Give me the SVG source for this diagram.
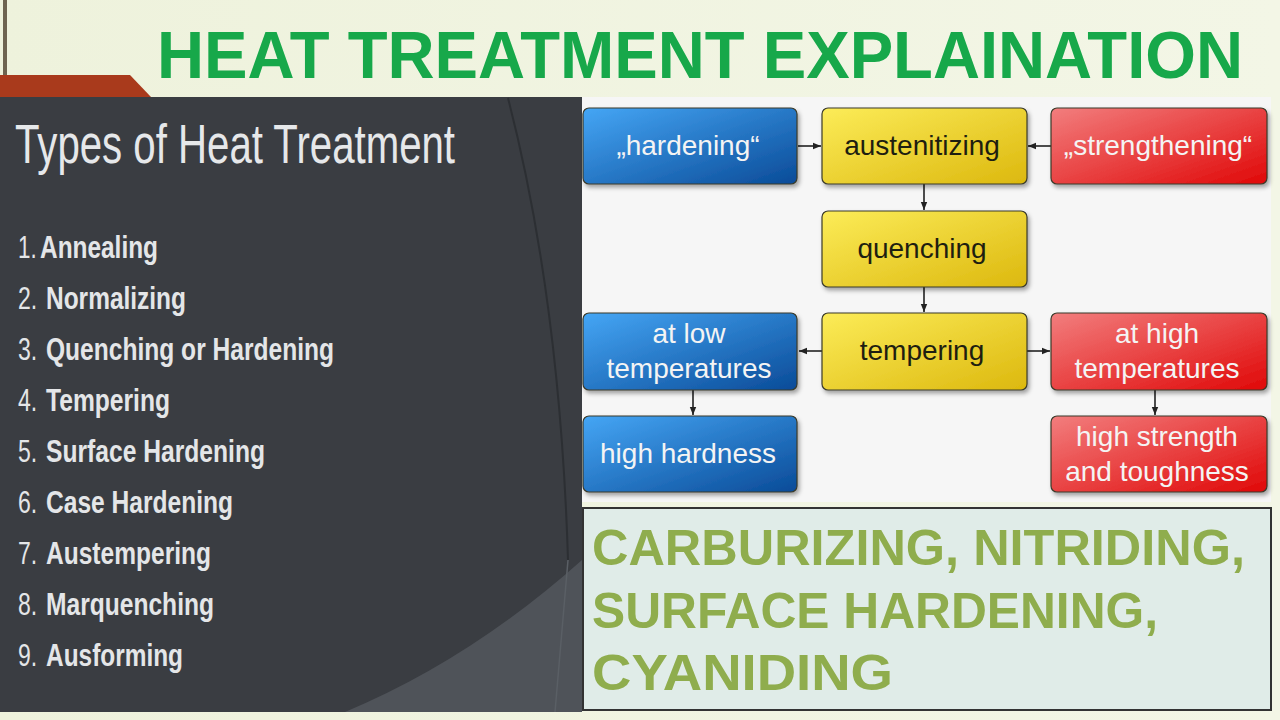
<svg xmlns="http://www.w3.org/2000/svg" width="1280" height="720" viewBox="0 0 1280 720">
<defs>
<linearGradient id="bgG" x1="0" y1="0" x2="1" y2="0"><stop offset="0" stop-color="#eef2dc"/><stop offset="1" stop-color="#f3f6e6"/></linearGradient>
<linearGradient id="blueG" x1="0" y1="0" x2="1" y2="1"><stop offset="0" stop-color="#45a6f5"/><stop offset="1" stop-color="#0a4b98"/></linearGradient>
<linearGradient id="yelG" x1="0" y1="0" x2="1" y2="1"><stop offset="0" stop-color="#fcec58"/><stop offset="1" stop-color="#dcb80e"/></linearGradient>
<linearGradient id="redG" x1="0" y1="0" x2="1" y2="1"><stop offset="0" stop-color="#f27e7e"/><stop offset="1" stop-color="#e00808"/></linearGradient>
<filter id="sh" x="-10%" y="-10%" width="125%" height="130%"><feDropShadow dx="2" dy="3" stdDeviation="2" flood-color="#000" flood-opacity="0.35"/></filter>
<marker id="ah" viewBox="0 0 10 10" refX="10" refY="5" markerWidth="8" markerHeight="8" markerUnits="userSpaceOnUse" orient="auto"><path d="M0,1 L10,5 L0,9 z" fill="#222"/></marker>
<style>
.box{stroke:#3a3a2a;stroke-width:1.2;filter:url(#sh)}
.b{fill:url(#blueG)}
.y{fill:url(#yelG)}
.r{fill:url(#redG)}
.lt{font-family:"Liberation Sans",Arial,sans-serif;font-size:28px;fill:#f4f4f4;text-anchor:middle}
.dt{font-family:"Liberation Sans",Arial,sans-serif;font-size:28px;fill:#1e1e10;text-anchor:middle}
.li{font-family:"Liberation Sans",Arial,sans-serif;font-size:32px;font-weight:bold;fill:#e4e6e8}
.num{font-family:"Liberation Sans",Arial,sans-serif;font-size:32px;fill:#e4e6e8}
.con{stroke:#222;stroke-width:1.6;fill:none;marker-end:url(#ah)}
.gt{font-family:"Liberation Sans",Arial,sans-serif;font-size:50px;font-weight:bold;fill:#8fad4d}
</style>
</defs>

<rect width="1280" height="720" fill="url(#bgG)"/>
<rect x="3" y="0" width="4" height="76" fill="#6e6450"/>
<polygon points="0,75 130,75 151,97 0,97" fill="#a93a1c"/>

<text x="157" y="78" font-family="'Liberation Sans',Arial,sans-serif" font-size="66" font-weight="bold" fill="#17a84a" textLength="1086" lengthAdjust="spacingAndGlyphs">HEAT TREATMENT EXPLAINATION</text>

<g id="left-panel">
<rect x="0" y="97" width="582" height="615" fill="#3a3d42"/>
<path d="M582,560 Q470,660 345,712 L582,712 z" fill="#4f5359"/>
<path d="M508,98 Q560,300 568,560" stroke="#2c2f33" stroke-width="2" fill="none"/>
<path d="M568,560 L555,712" stroke="#5a5f65" stroke-width="1.5" fill="none"/>
<text x="15" y="163" font-family="'Liberation Sans',Arial,sans-serif" font-size="56" fill="#e6e8ea" textLength="440" lengthAdjust="spacingAndGlyphs">Types of Heat Treatment</text>
<text class="num" transform="translate(18,258) scale(0.7,1)">1.</text><text class="li" x="40" y="258" textLength="118" lengthAdjust="spacingAndGlyphs">Annealing</text>
<text class="num" transform="translate(18,309) scale(0.72,1)">2.</text><text class="li" x="46" y="309" textLength="140" lengthAdjust="spacingAndGlyphs">Normalizing</text>
<text class="num" transform="translate(18,360) scale(0.72,1)">3.</text><text class="li" x="46" y="360" textLength="288" lengthAdjust="spacingAndGlyphs">Quenching or Hardening</text>
<text class="num" transform="translate(18,411) scale(0.72,1)">4.</text><text class="li" x="46" y="411" textLength="124" lengthAdjust="spacingAndGlyphs">Tempering</text>
<text class="num" transform="translate(18,462) scale(0.72,1)">5.</text><text class="li" x="46" y="462" textLength="219" lengthAdjust="spacingAndGlyphs">Surface Hardening</text>
<text class="num" transform="translate(18,513) scale(0.72,1)">6.</text><text class="li" x="46" y="513" textLength="187" lengthAdjust="spacingAndGlyphs">Case Hardening</text>
<text class="num" transform="translate(18,564) scale(0.72,1)">7.</text><text class="li" x="46" y="564" textLength="165" lengthAdjust="spacingAndGlyphs">Austempering</text>
<text class="num" transform="translate(18,615) scale(0.72,1)">8.</text><text class="li" x="46" y="615" textLength="168" lengthAdjust="spacingAndGlyphs">Marquenching</text>
<text class="num" transform="translate(18,666) scale(0.72,1)">9.</text><text class="li" x="46" y="666" textLength="137" lengthAdjust="spacingAndGlyphs">Ausforming</text>
</g>

<rect x="582" y="97" width="689" height="405" fill="#f6f6f6"/>

<g id="connectors">
<line class="con" x1="798" y1="146" x2="821" y2="146"/>
<line class="con" x1="1051" y1="146" x2="1028" y2="146"/>
<line class="con" x1="924" y1="184" x2="924" y2="210"/>
<line class="con" x1="924" y1="287" x2="924" y2="312"/>
<line class="con" x1="822" y1="351" x2="799" y2="351"/>
<line class="con" x1="1027" y1="351" x2="1050" y2="351"/>
<line class="con" x1="693" y1="390" x2="693" y2="415"/>
<line class="con" x1="1155" y1="390" x2="1155" y2="415"/>
</g>

<g id="n-hardening"><rect class="box b" x="583" y="108" width="214" height="76" rx="6"/><text class="lt" x="688" y="155">„hardening“</text></g>
<g id="n-austenitizing"><rect class="box y" x="822" y="108" width="205" height="76" rx="6"/><text class="dt" x="922" y="155">austenitizing</text></g>
<g id="n-strengthening"><rect class="box r" x="1051" y="108" width="216" height="76" rx="6"/><text class="lt" x="1158" y="155">„strengthening“</text></g>
<g id="n-quenching"><rect class="box y" x="822" y="211" width="205" height="76" rx="6"/><text class="dt" x="922" y="258">quenching</text></g>
<g id="n-low"><rect class="box b" x="583" y="313" width="214" height="77" rx="6"/><text class="lt" x="689" y="343">at low</text><text class="lt" x="689" y="378">temperatures</text></g>
<g id="n-tempering"><rect class="box y" x="822" y="313" width="205" height="77" rx="6"/><text class="dt" x="922" y="360">tempering</text></g>
<g id="n-high"><rect class="box r" x="1051" y="313" width="216" height="77" rx="6"/><text class="lt" x="1157" y="343">at high</text><text class="lt" x="1157" y="378">temperatures</text></g>
<g id="n-hardness"><rect class="box b" x="583" y="416" width="214" height="76" rx="6"/><text class="lt" x="688" y="463">high hardness</text></g>
<g id="n-strength"><rect class="box r" x="1051" y="416" width="216" height="76" rx="6"/><text class="lt" x="1157" y="446">high strength</text><text class="lt" x="1157" y="481">and toughness</text></g>

<g id="surface-box">
<rect x="583" y="508" width="688" height="202" fill="#e0ece8" stroke="#333" stroke-width="2"/>
<text class="gt" x="592" y="565" textLength="653" lengthAdjust="spacingAndGlyphs">CARBURIZING, NITRIDING,</text>
<text class="gt" x="592" y="628" textLength="566" lengthAdjust="spacingAndGlyphs">SURFACE HARDENING,</text>
<text class="gt" x="592" y="690" textLength="301" lengthAdjust="spacingAndGlyphs">CYANIDING</text>
</g>
</svg>
